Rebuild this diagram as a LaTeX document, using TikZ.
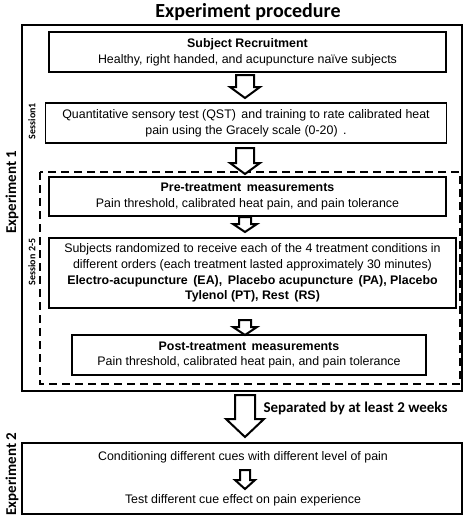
\documentclass[tikz,border=0pt]{standalone}
\usepackage{fontspec}
\setmainfont{Liberation Sans}
\newfontfamily\carlitofont{Carlito}
\tikzset{
  box/.style={draw, line width=1.3pt, fill=white, inner sep=0pt, align=center, font=\fontsize{12.4}{15.8}\selectfont},
  outer/.style={draw, line width=2.8pt},
  dashbox/.style={draw, line width=2.4pt, dash pattern=on 8pt off 5pt},
  arrowline/.style={draw, line width=2pt, fill=white, line join=miter},
  sidelabel/.style={font=\carlitofont\bfseries\fontsize{15}{15}\selectfont, rotate=90, inner sep=0pt},
  sesslabel/.style={font=\carlitofont\bfseries\fontsize{10}{10}\selectfont, rotate=90, inner sep=0pt},
  plain/.style={font=\fontsize{12.4}{14}\selectfont},
}
% block arrow: x, top y, bottom y, shaft half width, head half width, head length
\newcommand{\barr}[6]{%
  \draw[arrowline] ({#1-#4},#2) -- ({#1+#4},#2) -- ({#1+#4},{#3-#6}) -- ({#1+#5},{#3-#6})
    -- (#1,#3) -- ({#1-#5},{#3-#6}) -- ({#1-#4},{#3-#6}) -- cycle;}
\begin{document}
\begin{tikzpicture}[x=1pt,y=-1pt]
\useasboundingbox (0,0) rectangle (474,523);
\node[font=\carlitofont\bfseries\fontsize{20}{20}\selectfont] (title) at (248,12) {Experiment procedure};

% Experiment 1 outer box
\draw[outer] (22,25) rectangle (462,391);
\node[sidelabel] (exp1) at (12,192) {Experiment 1};
\node[sesslabel] (s1) at (32,121) {Session1};
\node[sesslabel] (s25) at (32,262) {Session 2-5};

% dashed box
\draw[dashbox] (40,172) rectangle (460,384);

\node[box, minimum width=397pt, minimum height=40pt] (recruit) at (247.5,52)
  {\textbf{Subject Recruitment}\\Healthy, right handed, and acupuncture naïve subjects};
\node[box, minimum width=401pt, minimum height=40pt] (qst) at (246,123)
  {Quantitative sensory test (QST)\, and training to rate calibrated heat\\pain using the Gracely scale (0-20)\, .};
\node[box, minimum width=397pt, minimum height=39pt] (pre) at (247.5,196.5)
  {\textbf{Pre-treatment\, measurements}\\Pain threshold, calibrated heat pain, and pain tolerance};
\node[box, minimum width=407pt, minimum height=70pt] (rand) at (252.5,273)
  {Subjects randomized to receive each of the 4 treatment conditions in\\
   different orders (each treatment lasted approximately 30 minutes)\\
   \textbf{Electro-acupuncture\, (EA),\, Placebo acupuncture\, (PA), Placebo}\\
   \textbf{Tylenol (PT), Rest\, (RS)}};
\node[box, minimum width=354pt, minimum height=40pt] (post) at (249,355)
  {\textbf{Post-treatment\, measurements}\\Pain threshold, calibrated heat pain, and pain tolerance};

% Experiment 2
\node[draw, line width=2.4pt, minimum width=440pt, minimum height=71pt, inner sep=0pt] (exp2box) at (242,478.5) {};
\node[sidelabel] (exp2) at (12,474) {Experiment 2};
\node[plain] (cond) at (243,457) {Conditioning different cues with different level of pain};
\node[plain] (test) at (243,500) {Test different cue effect on pain experience};

% arrows
\barr{245}{75}{98}{9}{15}{11}
\barr{245}{148}{174}{9}{15}{11}
\barr{245}{217}{232}{6}{12}{8}
\barr{245}{320}{335}{6}{12}{8}
\barr{245}{395}{437}{10}{19}{18}
\barr{245}{470}{489}{5}{10}{9}
\node[font=\carlitofont\bfseries\fontsize{15}{15}\selectfont, anchor=west] (sep) at (260,408) {Separated by at least 2 weeks};
\end{tikzpicture}
\end{document}
